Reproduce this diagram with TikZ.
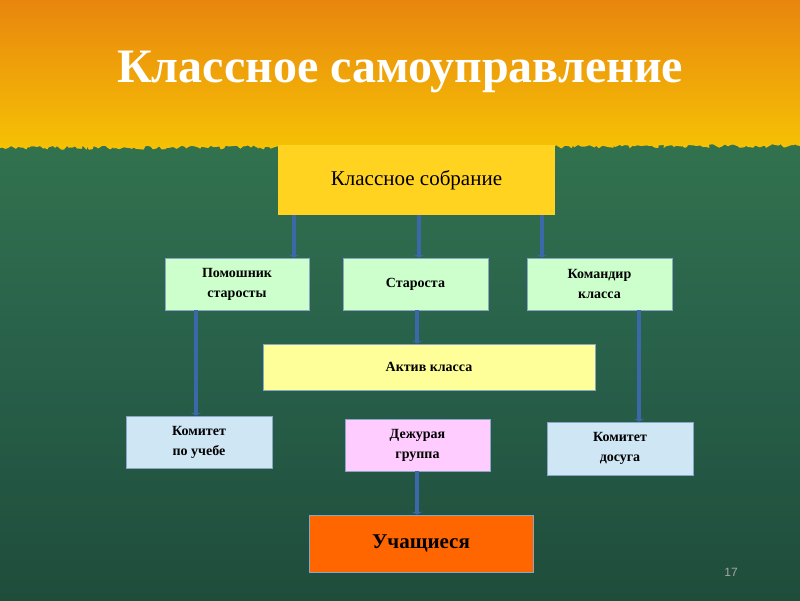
\documentclass[tikz,border=0pt]{standalone}
\usepackage{fontspec}
\setmainfont{Liberation Serif}
\newfontfamily\numfont{Liberation Sans}
\usetikzlibrary{arrows.meta,decorations.pathmorphing,calc}
\definecolor{gtop}{HTML}{33744F}
\definecolor{gmid}{HTML}{28604A}
\definecolor{gbot}{HTML}{1F4D3B}
\definecolor{otop}{HTML}{E8860E}
\definecolor{obot}{HTML}{F6C204}
\definecolor{gold}{HTML}{FFD320}
\definecolor{lgreen}{HTML}{CCFFCC}
\definecolor{lyellow}{HTML}{FFFF99}
\definecolor{lblue}{HTML}{CFE6F5}
\definecolor{lpink}{HTML}{FFCCFF}
\definecolor{orng}{HTML}{FF6600}
\definecolor{arrc}{HTML}{3A68A8}
\definecolor{edge}{HTML}{8AA6C6}
\tikzset{
  box/.style={rectangle, draw=edge, line width=0.8pt, inner sep=2pt, align=center, text=black, font=\fontsize{14}{20}\selectfont\bfseries},
  arr/.style={draw=arrc, line width=4.5pt, -{Stealth[length=3pt,width=11pt]}},
}
\begin{document}
\begin{tikzpicture}[x=1pt,y=-1pt]
\useasboundingbox (0,0) rectangle (800,600);
% background
\shade[top color=gtop, bottom color=gbot, middle color=gmid] (0,120) rectangle (800,600);
\pgfmathsetseed{7}
\shade[top color=otop, bottom color=obot]
  decorate[decoration={random steps, segment length=2.5pt, amplitude=2pt}]{(0,148) -- (800,146)} -- (800,0) -- (0,0) -- cycle;
% title
\node[text=white, font=\fontsize{48}{56}\selectfont\bfseries] (title) at (400,72) {Классное самоуправление};
% nodes
\node[box, draw=none, fill=gold, minimum width=277, minimum height=70, font=\fontsize{21}{24}\selectfont] (sob) at (416.5,180) {Классное собрание};
\node[box, fill=lgreen, minimum width=144, minimum height=52] (pom) at (237,284) {Помошник\\старосты};
\node[box, fill=lgreen, minimum width=145, minimum height=52] (sta) at (415.5,284) {Староста};
\node[box, fill=lgreen, minimum width=145, minimum height=52] (kom) at (599.5,284) {Командир\\класса};
\node[box, fill=lyellow, minimum width=332, minimum height=46] (akt) at (429,367) {Актив класса};
\node[box, fill=lblue, minimum width=146, minimum height=52] (uch) at (199,442) {Комитет\\по учебе};
\node[box, fill=lpink, minimum width=145, minimum height=52] (dej) at (417.5,445) {Дежурая\\группа};
\node[box, fill=lblue, minimum width=146, minimum height=53] (dos) at (620,448.5) {Комитет\\досуга};
\node[box, fill=orng, minimum width=224, minimum height=57, font=\fontsize{21}{24}\selectfont\bfseries] (stu) at (421,543.5) {Учащиеся};
\node[text=gray!70, font=\numfont\fontsize{12}{14}\selectfont] (num) at (731,572) {17};
% connectors
\draw[arr] (sob.south -| 294,0) -- (pom.north -| 294,0);
\draw[arr] (sob.south -| 419,0) -- (sta.north -| 419,0);
\draw[arr] (sob.south -| 542,0) -- (kom.north -| 542,0);
\draw[arr] (pom.south -| 196,0) -- (uch.north -| 196,0);
\draw[arr] (sta.south -| 417,0) -- (akt.north -| 417,0);
\draw[arr] (kom.south -| 639,0) -- (dos.north -| 639,0);
\draw[arr] (dej.south -| 417,0) -- (stu.north -| 417,0);
\end{tikzpicture}
\end{document}
